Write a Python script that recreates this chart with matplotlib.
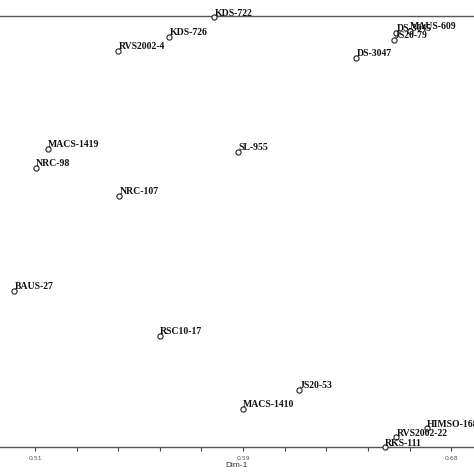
import matplotlib
matplotlib.use("Agg")
import matplotlib.pyplot as plt

# Genotype names and coordinates (Dim-1, Dim-2)
genotypes = ["KDS-722", "KDS-726", "RVS2002-4", "DS-3047", "JS20-79", "DS-3045",
             "MAUS-609", "SL-955", "MACS-1419", "NRC-98", "NRC-107", "BAUS-27",
             "RSC10-17", "JS20-53", "MACS-1410", "HIMSO-1685", "RVS2002-22", "RKS-111"]
dim1 = [0.5831, 0.5648, 0.5439, 0.6412, 0.6567, 0.6574,
        0.6631, 0.5929, 0.5152, 0.5103, 0.5444, 0.5014,
        0.5610, 0.6178, 0.5949, 0.6699, 0.6575, 0.6529]
dim2 = [0.998, 0.953, 0.921, 0.903, 0.945, 0.962,
        0.966, 0.686, 0.692, 0.649, 0.583, 0.363,
        0.259, 0.133, 0.090, 0.044, 0.023, 0.000]

tick_vals = [0.51 + k * 0.017 for k in range(11)]
tick_labels = ["0.51", "", "", "", "", "0.59", "", "", "", "", "0.68"]

fig = plt.figure(figsize=(4.74, 4.74), dpi=100)
ax = fig.add_axes([0.0, 0.0563, 1.0, 0.9089])

ax.scatter(dim1, dim2, s=14, facecolors="white", edgecolors="#222222",
           linewidths=0.8, zorder=3, clip_on=False)
for name, x, y in zip(genotypes, dim1, dim2):
    ax.annotate(name, (x, y), xytext=(0.3, 1.3), textcoords="offset points",
                ha="left", va="baseline", fontsize=7, fontweight="bold",
                family="Liberation Serif", color="#111111", zorder=4)

ax.set_xlim(0.4957, 0.6893)
ax.set_ylim(0.0, 1.0)
ax.set_xticks(tick_vals)
ax.set_xticklabels(tick_labels, fontsize=4.5, color="#555555", family="DejaVu Sans")
ax.tick_params(axis="x", direction="out", length=3, width=0.8, color="#444444", pad=3)
ax.set_yticks([])
for side in ["left", "right"]:
    ax.spines[side].set_visible(False)
for side in ["top", "bottom"]:
    ax.spines[side].set_color("#555555")
    ax.spines[side].set_linewidth(1.0)
ax.set_xlabel("Dim-1", fontsize=6, color="#333333", family="Liberation Sans", labelpad=1)

fig.savefig("out.png", dpi=100)
